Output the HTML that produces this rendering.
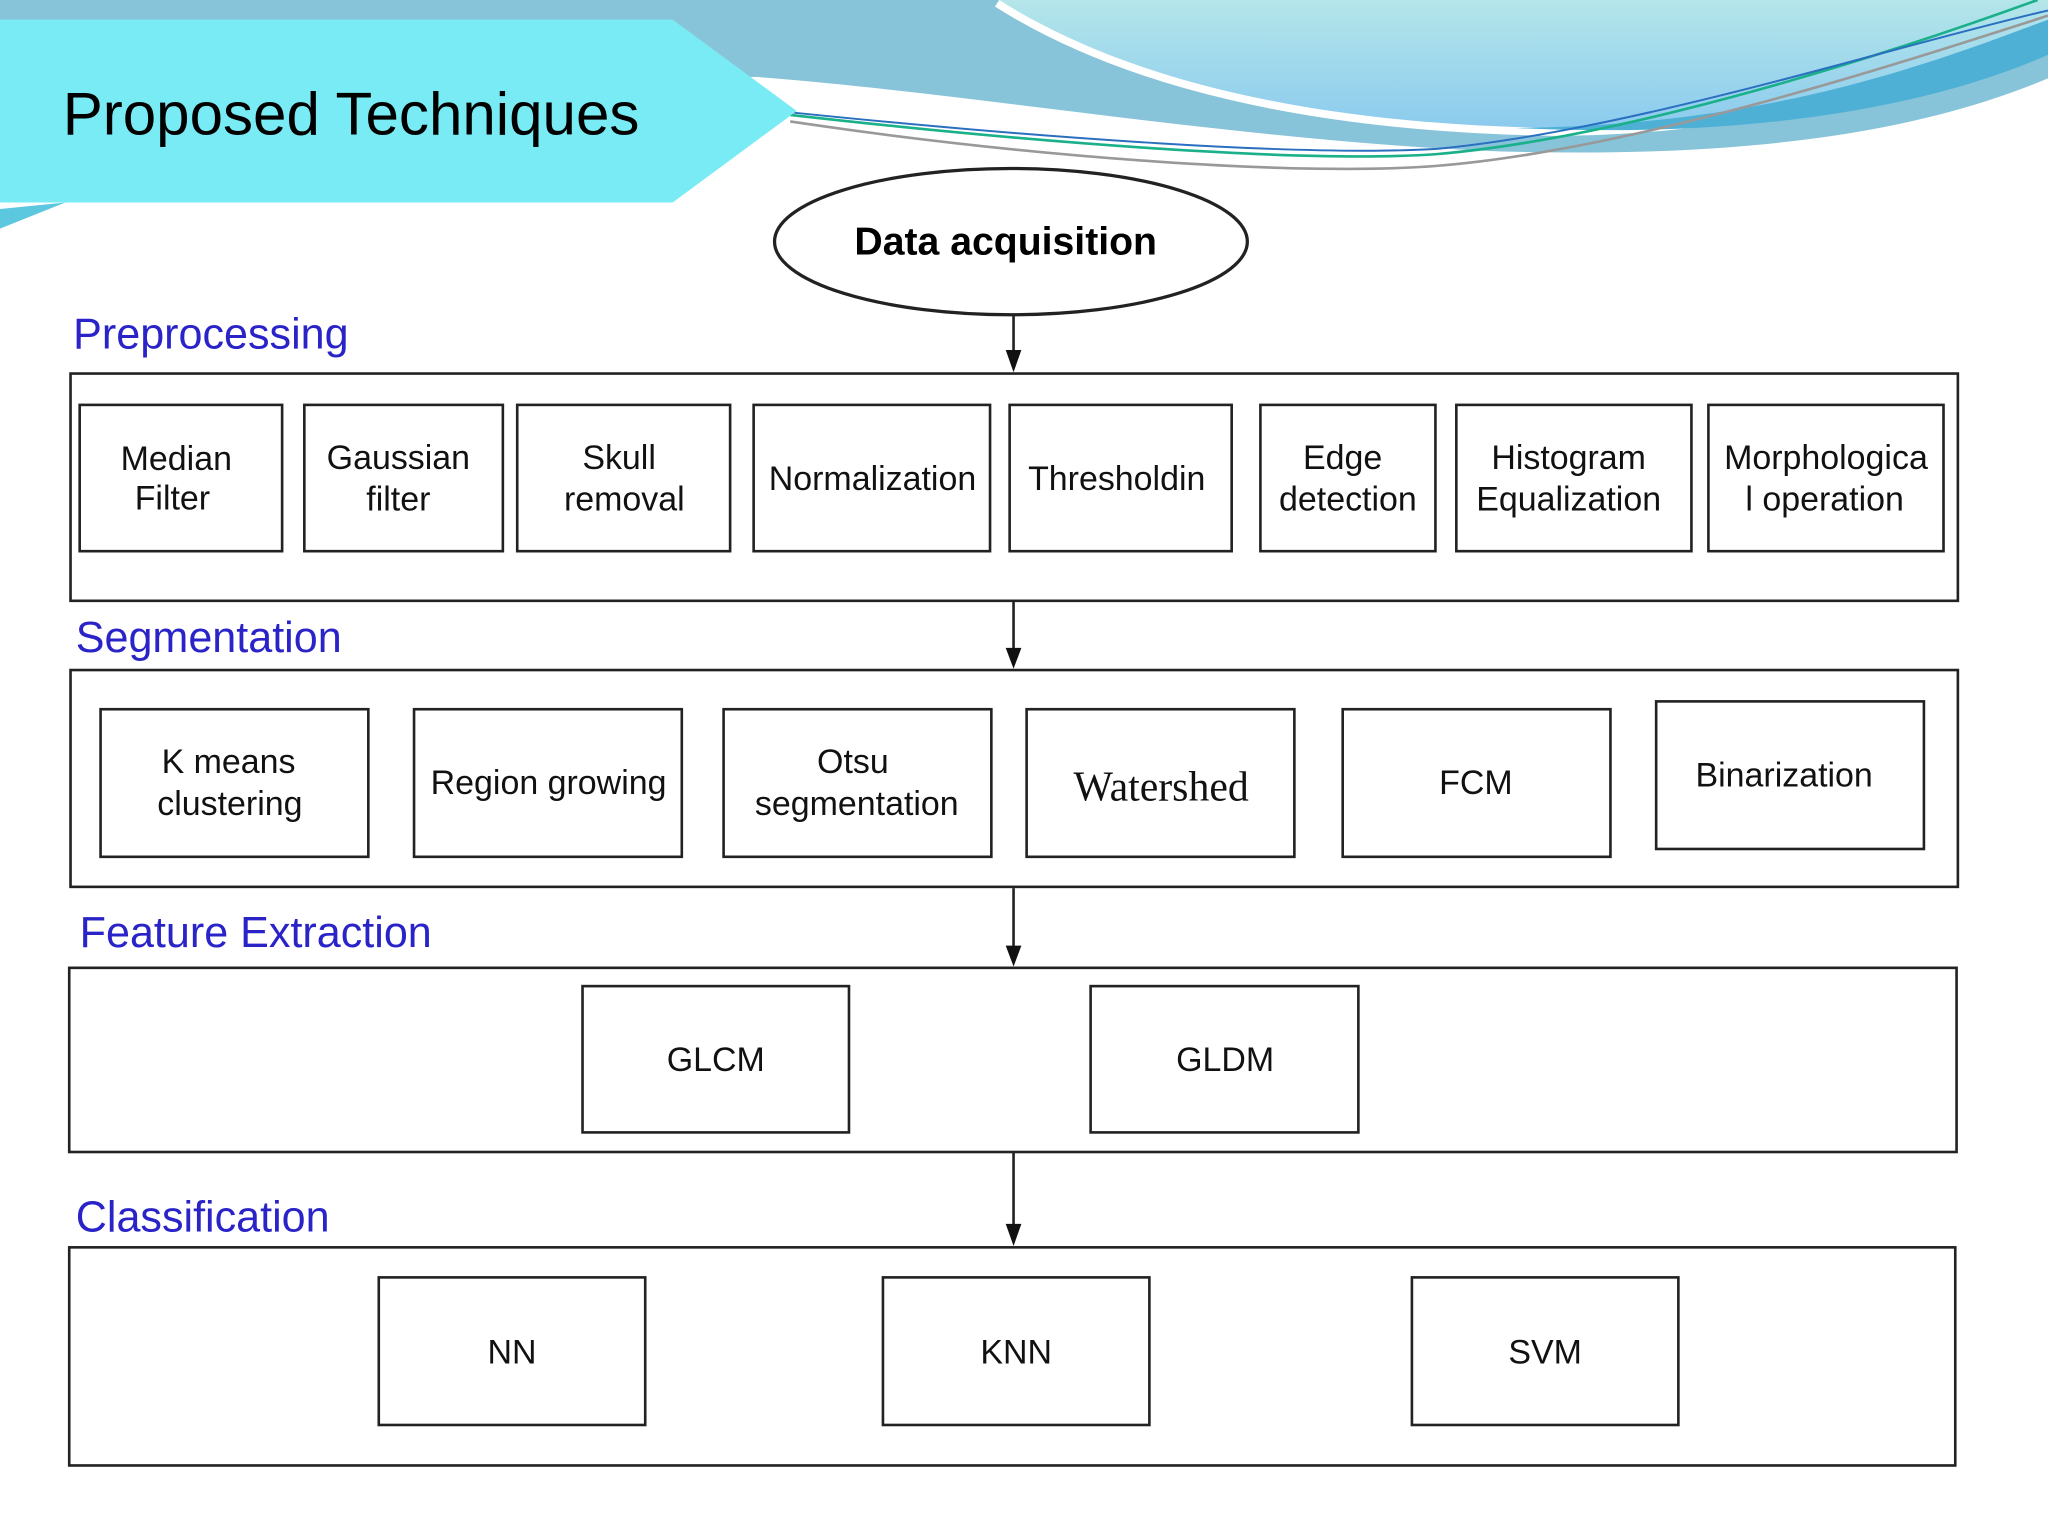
<!DOCTYPE html>
<html><head><meta charset="utf-8"><style>
html,body{margin:0;padding:0;background:#fff;width:2048px;height:1536px;overflow:hidden}
svg{display:block}
text{font-family:"Liberation Sans",sans-serif}
text.serif{font-family:"Liberation Serif",serif}
</style></head><body>
<svg width="2048" height="1536" viewBox="0 0 1568 1176" xmlns="http://www.w3.org/2000/svg">
<defs>
<linearGradient id="g1" x1="0" y1="0" x2="0" y2="1"><stop offset="0" stop-color="#b4e6ea"/><stop offset="1" stop-color="#8ccbee"/></linearGradient>
</defs>
<rect width="1568" height="1176" fill="#fff"/>
<path d="M0,0 L1568,0 L1568,60 C1450,110 1300,120 1150,116 C950,108 750,72 580,59 L0,60 Z" fill="#88c4d9"/>
<path d="M1568,18 C1450,75 1300,98 1190,98 C1000,95 860,60 765,0" fill="none" stroke="#fff" stroke-width="12"/>
<path d="M765,0 L1568,0 L1568,18 C1450,75 1300,98 1190,98 C1000,95 860,60 765,0 Z" fill="url(#g1)"/>
<path d="M1160,98 C1350,96 1470,52 1568,15 L1568,42 C1470,85 1330,106 1160,98 Z" fill="#4fb0d6"/>
<path d="M605,88 C800,110 1000,125 1100,118 C1250,105 1450,40 1560,0" fill="none" stroke="#1ab08a" stroke-width="2"/>
<path d="M605,86 C800,106 1000,120 1100,114 C1250,100 1450,35 1568,8" fill="none" stroke="#2a6fc0" stroke-width="1.5"/>
<path d="M605,93 C800,122 1000,135 1100,127 C1250,115 1450,50 1568,12" fill="none" stroke="#999" stroke-width="2"/>
<path d="M0,160 L50,155 L0,175 Z" fill="#5cc8e0"/>
<polygon points="0,15 515,15 610,85 515,155 0,155" fill="#79ebf4"/>
<text x="48" y="103" font-size="46" fill="#000">Proposed Techniques</text>
<ellipse cx="774" cy="185" rx="181" ry="56" fill="#fff" stroke="#222" stroke-width="2.5"/>
<text x="770" y="195" font-size="30" font-weight="bold" text-anchor="middle">Data acquisition</text>
<g stroke="#222" stroke-width="2" fill="none">
<line x1="776" y1="240" x2="776" y2="272"/>
<line x1="776" y1="460" x2="776" y2="500"/>
<line x1="776" y1="680" x2="776" y2="728"/>
<line x1="776" y1="882" x2="776" y2="941"/>
<rect x="54" y="286" width="1445" height="174"/>
<rect x="54" y="513" width="1445" height="166"/>
<rect x="53" y="741" width="1445" height="141"/>
<rect x="53" y="955" width="1444" height="167"/>
<rect x="61" y="310" width="155" height="112"/>
<rect x="233" y="310" width="152" height="112"/>
<rect x="396" y="310" width="163" height="112"/>
<rect x="577" y="310" width="181" height="112"/>
<rect x="773" y="310" width="170" height="112"/>
<rect x="965" y="310" width="134" height="112"/>
<rect x="1115" y="310" width="180" height="112"/>
<rect x="1308" y="310" width="180" height="112"/>
<rect x="77" y="543" width="205" height="113"/>
<rect x="317" y="543" width="205" height="113"/>
<rect x="554" y="543" width="205" height="113"/>
<rect x="786" y="543" width="205" height="113"/>
<rect x="1028" y="543" width="205" height="113"/>
<rect x="1268" y="537" width="205" height="113"/>
<rect x="446" y="755" width="204" height="112"/>
<rect x="835" y="755" width="205" height="112"/>
<rect x="290" y="978" width="204" height="113"/>
<rect x="676" y="978" width="204" height="113"/>
<rect x="1081" y="978" width="204" height="113"/>
</g>
<g fill="#111">
<polygon points="770,268 782,268 776,285"/>
<polygon points="770,496 782,496 776,512"/>
<polygon points="770,724 782,724 776,740"/>
<polygon points="770,937 782,937 776,954"/>
</g>
<g fill="#2a24c8" font-size="33">
<text x="56" y="267">Preprocessing</text>
<text x="58" y="499">Segmentation</text>
<text x="61" y="725">Feature Extraction</text>
<text x="58" y="943">Classification</text>
</g>
<g font-size="26" fill="#111" text-anchor="middle">
<text x="135" y="360">Median</text><text x="132" y="390">Filter</text>
<text x="305" y="359">Gaussian</text><text x="305" y="391">filter</text>
<text x="474" y="359">Skull</text><text x="478" y="391">removal</text>
<text x="668" y="375">Normalization</text>
<text x="855" y="375">Thresholdin</text>
<text x="1028" y="359">Edge</text><text x="1032" y="391">detection</text>
<text x="1201" y="359">Histogram</text><text x="1201" y="391">Equalization</text>
<text x="1398" y="359">Morphologica</text><text x="1397" y="391">l operation</text>
<text x="175" y="592">K means</text><text x="176" y="624">clustering</text>
<text x="420" y="608">Region growing</text>
<text x="653" y="592">Otsu</text><text x="656" y="624">segmentation</text>
<text class="serif" x="889" y="613" font-size="32">Watershed</text>
<text x="1130" y="608">FCM</text>
<text x="1366" y="602">Binarization</text>
<text x="548" y="820">GLCM</text>
<text x="938" y="820">GLDM</text>
<text x="392" y="1044">NN</text>
<text x="778" y="1044">KNN</text>
<text x="1183" y="1044">SVM</text>
</g>
</svg>
</body></html>
